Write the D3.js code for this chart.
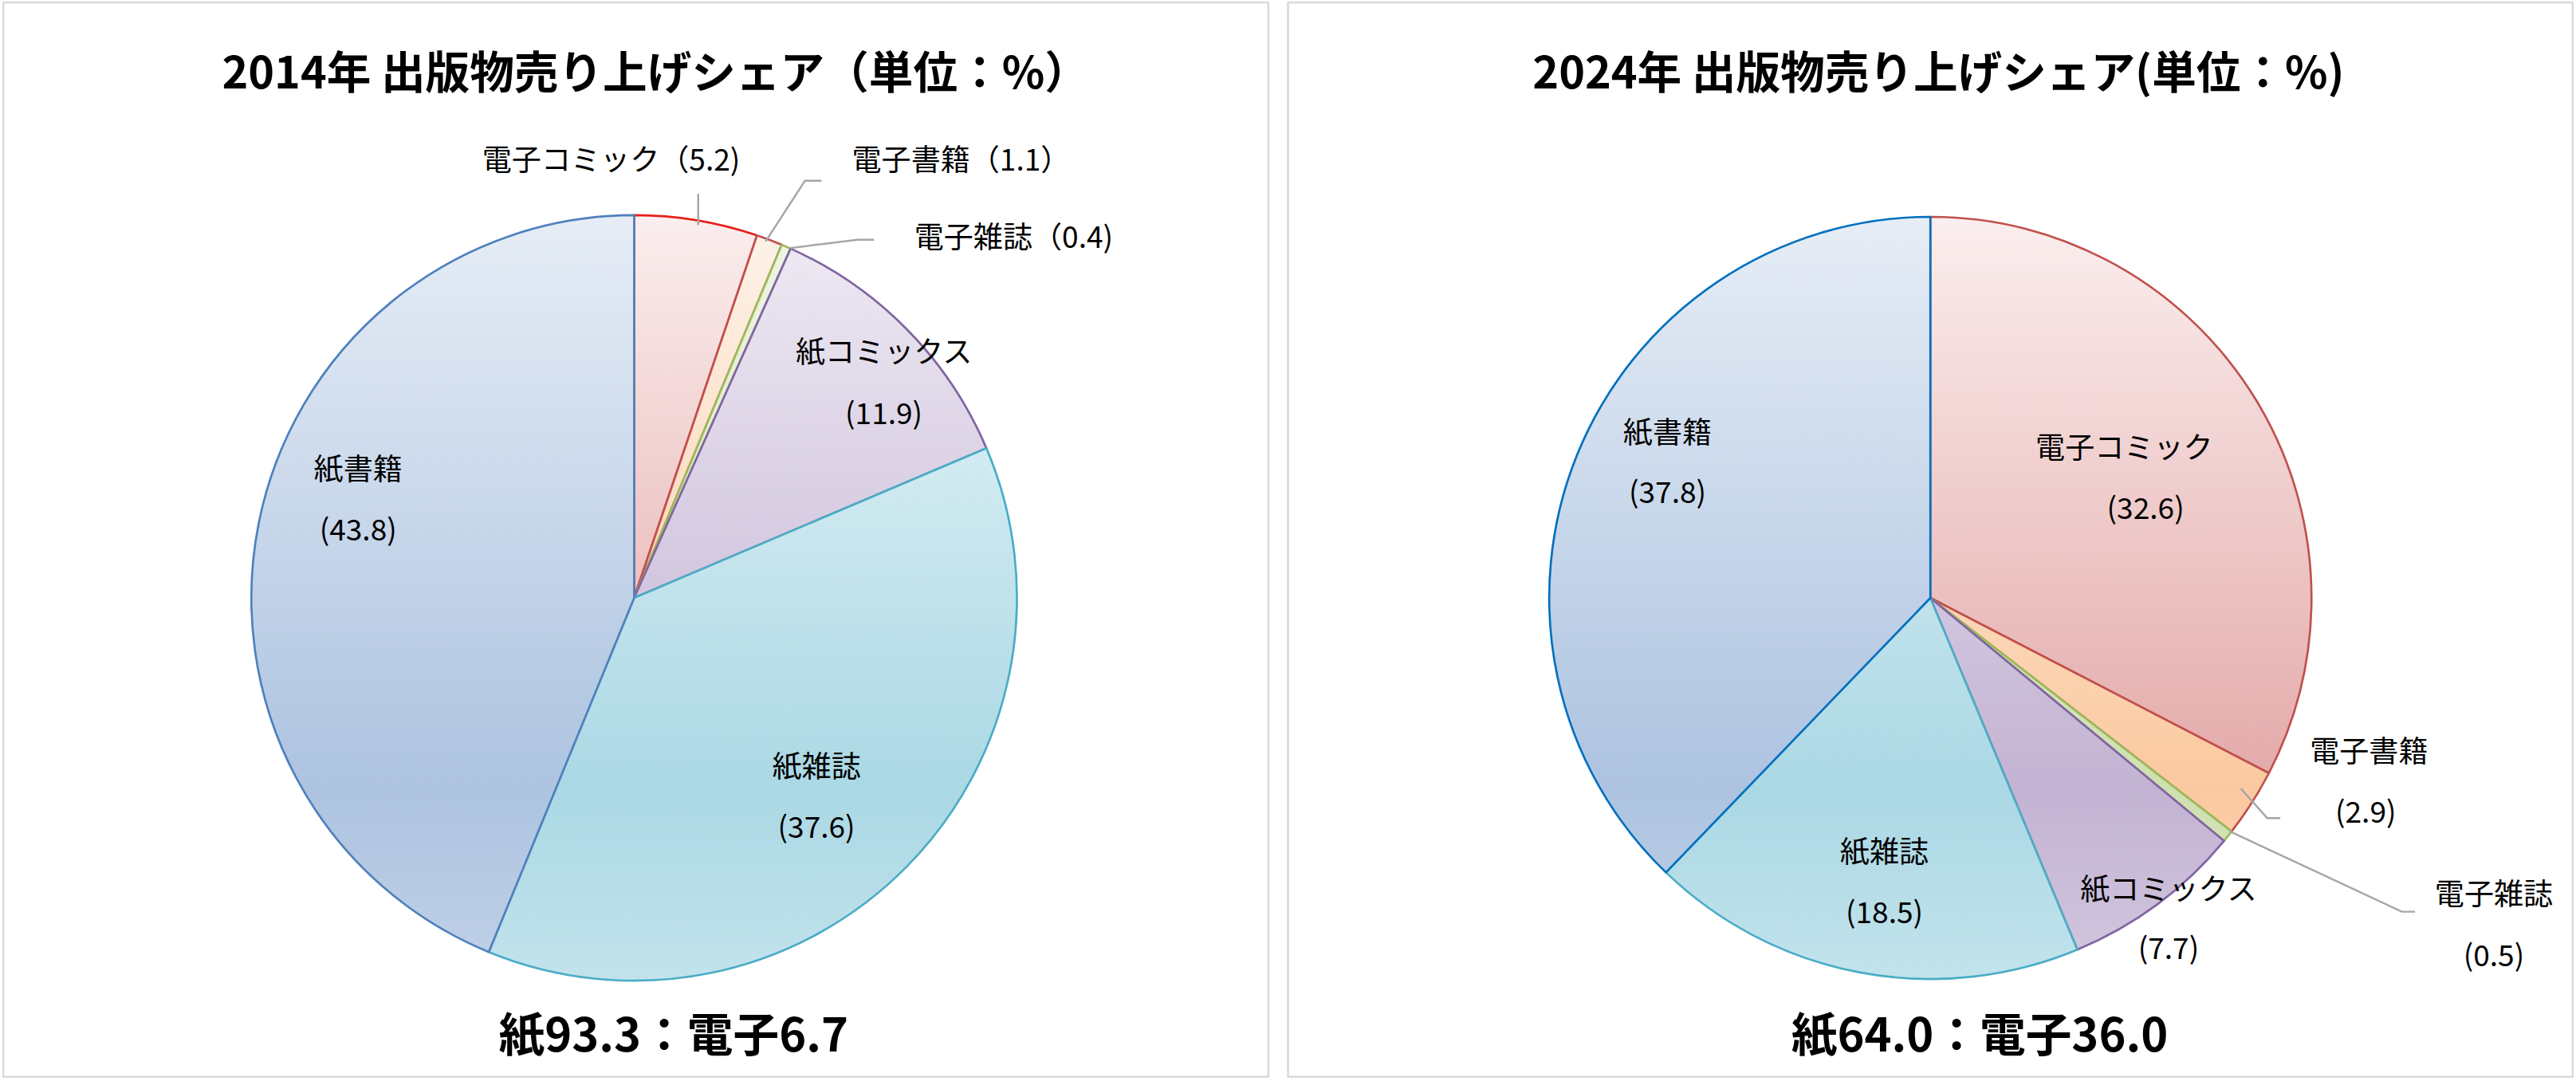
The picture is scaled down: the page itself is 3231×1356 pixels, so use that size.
<!DOCTYPE html><html><head><meta charset="utf-8"><script src="https://cdn.jsdelivr.net/npm/d3@7"></script>
<style>body{margin:0;background:#fff}svg{display:block}</style></head><body>
<script>
const categories=["電子コミック","電子書籍","電子雑誌","紙コミックス","紙雑誌","紙書籍"];
const values2014=[5.2,1.1,0.4,11.9,37.6,43.8];
const values2024=[32.6,2.9,0.5,7.7,18.5,37.8];
const titles=["2014年 出版物売り上げシェア（単位：%）","2024年 出版物売り上げシェア(単位：%)"];
const footers=["紙93.3：電子6.7","紙64.0：電子36.0"];
const strokes=[["#e8201c","#c0504d","#9bbb59","#8064a2","#4bacc6","#4f81bd"],["#c0504d","#c0504d","#9bbb59","#8064a2","#4bacc6","#0070c0"]];
const fillTop=["#fbeeee","#fdf3ea","#f0f5e6","#efebf4","#eef8fb","#e6edf6"];
const fillBot=["#e3a9a8","#fbc9a0","#cfe0b0","#c3b3d3","#aad8e4","#adc3e0"];
const S=3231/1568;
const panels=[{x0:2,x1:772,cx:386,cy:364,r:233,tx:399,fx:410,
 labels:[[372,98,"電子コミック（5.2)"],[585,98,"電子書籍（1.1）"],[617,145,"電子雑誌（0.4)"],[538,215,"紙コミックス"],[538,252,"(11.9)"],[497,467,"紙雑誌"],[497,504,"(37.6)"],[218,286,"紙書籍"],[218,323,"(43.8)"]],
 leaders:[[[425,137],[425,118]],[[466,147],[490,110],[500,110]],[[481,151],[522,146],[532,146]]]},
 {x0:784,x1:1566,cx:1175,cy:364,r:232,tx:1180,fx:1205,
 labels:[[1293,273,"電子コミック"],[1306,310,"(32.6)"],[1442,458,"電子書籍"],[1440,495,"(2.9)"],[1518,545,"電子雑誌"],[1518,582,"(0.5)"],[1147,519,"紙雑誌"],[1147,556,"(18.5)"],[1320,542,"紙コミックス"],[1320,578,"(7.7)"],[1015,264,"紙書籍"],[1015,300,"(37.8)"]],
 leaders:[[[1364,480],[1380,498],[1388,498]],[[1357,506],[1462,555],[1470,555]]]}];
const data=[values2014,values2024];
const svg=d3.select("body").append("svg").attr("width",3231).attr("height",1356);
const defs=svg.append("defs");
const g=svg.append("g").attr("transform",`scale(${S})`);
panels.forEach((p,pi)=>{
  g.append("rect").attr("x",p.x0).attr("y",1.5).attr("width",p.x1-p.x0).attr("height",654).attr("fill","#fff").attr("stroke","#d9d9d9").attr("stroke-width",1.2);
  g.append("text").attr("x",p.tx).attr("y",54).attr("text-anchor","middle").attr("font-family","Noto Sans CJK JP").attr("font-weight","bold").attr("font-size",27).text(titles[pi]);
  g.append("text").attr("x",p.fx).attr("y",640).attr("text-anchor","middle").attr("font-family","Noto Sans CJK JP").attr("font-weight","bold").attr("font-size",28).text(footers[pi]);
  categories.forEach((c,i)=>{
    const gr=defs.append("linearGradient").attr("id",`g${pi}_${i}`).attr("gradientUnits","userSpaceOnUse").attr("x1",0).attr("y1",-p.r).attr("x2",0).attr("y2",p.r);
    gr.append("stop").attr("offset",0).attr("stop-color",fillTop[i]);
    gr.append("stop").attr("offset",0.75).attr("stop-color",fillBot[i]);
    gr.append("stop").attr("offset",1).attr("stop-color",d3.interpolateRgb(fillBot[i],fillTop[i])(0.35));
  });
  const pie=d3.pie().sort(null).value(d=>d)(data[pi]);
  const arc=d3.arc().innerRadius(0).outerRadius(p.r);
  const pg=g.append("g").attr("transform",`translate(${p.cx},${p.cy})`);
  pg.selectAll("path").data(pie).join("path").attr("d",arc)
    .attr("fill",(d,i)=>`url(#g${pi}_${i})`)
    .attr("stroke",(d,i)=>strokes[pi][i]).attr("stroke-width",1.3).attr("stroke-linejoin","round");
  p.leaders.forEach(l=>g.append("path").attr("d",d3.line()(l)).attr("fill","none").attr("stroke","#a6a6a6").attr("stroke-width",1.2));
  p.labels.forEach(([x,y,t])=>g.append("text").attr("x",x).attr("y",y+6).attr("text-anchor","middle").attr("font-family","Noto Sans CJK JP").attr("font-size",18).text(t));
});
</script></body></html>
